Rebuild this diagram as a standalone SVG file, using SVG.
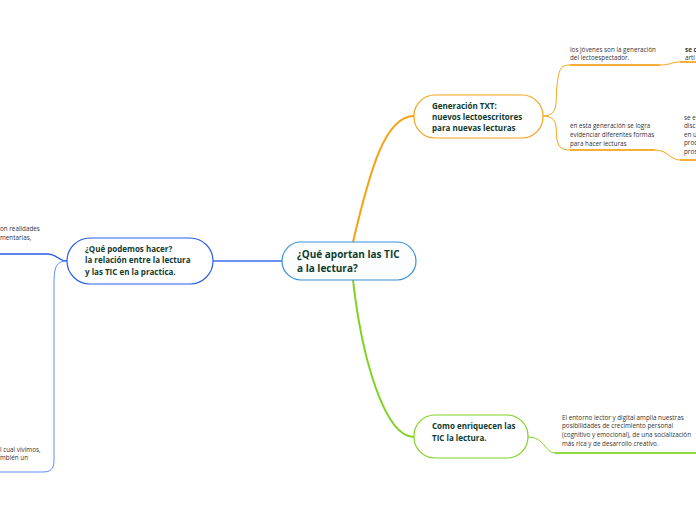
<svg xmlns="http://www.w3.org/2000/svg" width="696" height="520" viewBox="0 0 696 520">
<style>
.t{font-family:"Open Sans","Noto Sans",sans-serif;font-size:6.3px;fill:#333}
.b{font-family:"Open Sans","Noto Sans",sans-serif;font-weight:bold;fill:#0f3b2e}
.c{fill:none;stroke-linecap:round}
</style>
<rect width="696" height="520" fill="#fff"/>
<g id="connectors">
<path class="c" d="M353 242 C370 170 385 116 414 116" stroke="#f7a21b" stroke-width="2"/>
<path class="c" d="M353 280 C362 360 385 437 414 437" stroke="#7ed321" stroke-width="2"/>
<path class="c" d="M282 261 H213" stroke="#3b6ff0" stroke-width="1.5"/>
<path class="c" d="M67 261 C58 261 57 254 48 254 H0" stroke="#2a5ee8" stroke-width="1.5"/>
<path class="c" d="M67 261 C54 261 54 270 54 290 V460 C54 470 50 472 42 472 H0" stroke="#5c8cf5" stroke-width="1"/>
<path class="c" d="M543 116 C560 116 555 100 557 85 C559 70 560 65 570 65 H660 C670 65 672 62 680 62 H696" stroke="#f7a21b" stroke-width="1"/>
<path class="c" d="M543 116 C560 116 555 130 557 140 C559 148 562 150 570 150 H655 C668 150 670 160 680 160 H696" stroke="#f7a21b" stroke-width="1"/>
<path class="c" d="M528 437 C545 437 545 453 555 453 H696" stroke="#7ed321" stroke-width="1"/>
<path d="M570 65 H660 M680 62 H696 M570 150 H655 M680 160 H696" stroke="#f7a21b" stroke-width="1.5"/>
<path d="M555 453 H696" stroke="#7ed321" stroke-width="1.5"/>
</g>
<g id="center">
<rect x="282" y="242" width="134" height="38" rx="19" fill="#fbfdff" stroke="#3a8fd6" stroke-width="1.2"/>
<text class="b" font-size="10" x="297" y="258">¿Qué aportan las TIC</text>
<text class="b" font-size="10" x="297" y="272">a la lectura?</text>
</g>
<g id="generacion">
<rect x="414" y="95" width="129" height="43" rx="21" fill="#fff" stroke="#f7a21b" stroke-width="1.2"/>
<text class="b" font-size="8" x="432" y="109">Generación TXT:</text>
<text class="b" font-size="8" x="432" y="120">nuevos lectoescritores</text>
<text class="b" font-size="8" x="432" y="131">para nuevas lecturas</text>
</g>
<g id="podemos">
<rect x="67" y="238" width="146" height="46" rx="23" fill="#fff" stroke="#2a5ee8" stroke-width="1.2"/>
<text class="b" font-size="8" x="85" y="252">¿Qué podemos hacer?</text>
<text class="b" font-size="8" x="85" y="263">la relación entre la lectura</text>
<text class="b" font-size="8" x="85" y="275">y las TIC en la practica.</text>
</g>
<g id="como">
<rect x="414" y="415" width="114" height="43" rx="21" fill="#fff" stroke="#7ed321" stroke-width="1.2"/>
<text class="b" font-size="8" x="432" y="429">Como enriquecen las</text>
<text class="b" font-size="8" x="432" y="441">TIC la lectura.</text>
</g>
<g id="leaf-jovenes">
<text class="t" x="570" y="52">los jóvenes son la generación</text>
<text class="t" x="570" y="60">del lectoespectador.</text>
</g>
<g id="leaf-art">
<text class="t" x="685" y="52" font-weight="bold">se c</text>
<text class="t" x="685" y="60">artí</text>
</g>
<g id="leaf-esta">
<text class="t" x="570" y="128">en esta generación se logra</text>
<text class="t" x="570" y="137">evidenciar diferentes formas</text>
<text class="t" x="570" y="146">para hacer lecturas</text>
</g>
<g id="leaf-disc">
<text class="t" x="684" y="120">se e</text>
<text class="t" x="684" y="128">disc</text>
<text class="t" x="684" y="137">en u</text>
<text class="t" x="684" y="145">proc</text>
<text class="t" x="684" y="154">pros</text>
</g>
<g id="leaf-realidades">
<text class="t" x="0" y="231">on realidades</text>
<text class="t" x="0" y="240">mentarias,</text>
</g>
<g id="leaf-vivimos">
<text class="t" x="0" y="452">l cual vivimos,</text>
<text class="t" x="0" y="460">mbién un</text>
</g>
<g id="leaf-entorno">
<text class="t" x="562" y="420">El entorno lector y digital amplia nuestras</text>
<text class="t" x="562" y="428">posibilidades de crecimiento personal</text>
<text class="t" x="562" y="437">(cognitivo y emocional), de una socialización</text>
<text class="t" x="562" y="446">más rica y de desarrollo creativo.</text>
</g>
</svg>
